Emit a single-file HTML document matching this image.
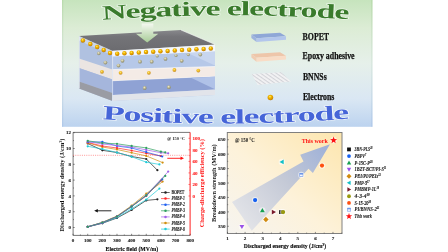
<!DOCTYPE html>
<html><head><meta charset="utf-8">
<style>
html,body{margin:0;padding:0;background:#fff;width:448px;height:252px;overflow:hidden}
svg{display:block}
text{font-family:"Liberation Serif",serif;font-weight:bold}
</style></head>
<body>
<svg width="448" height="252" viewBox="0 0 448 252">
<defs>
<linearGradient id="bgTop" x1="0" y1="0" x2="0" y2="1">
<stop offset="0" stop-color="#c6e4bd"/>
<stop offset="0.22" stop-color="#dcecd5"/>
<stop offset="0.5" stop-color="#e6f0ea"/>
<stop offset="0.78" stop-color="#dae7f3"/>
<stop offset="1" stop-color="#bcd3ef"/>
</linearGradient>
<radialGradient id="gold" cx="0.42" cy="0.35" r="0.7">
<stop offset="0" stop-color="#fff290"/>
<stop offset="0.3" stop-color="#f4bc00"/>
<stop offset="0.8" stop-color="#d08a00"/>
<stop offset="1" stop-color="#9a6400"/>
</radialGradient>
<radialGradient id="olive" cx="0.4" cy="0.35" r="0.65">
<stop offset="0" stop-color="#f0ecd0"/>
<stop offset="0.5" stop-color="#b8b490"/>
<stop offset="1" stop-color="#8a8a70"/>
</radialGradient>
<linearGradient id="downArrow" x1="0" y1="0" x2="0" y2="1">
<stop offset="0" stop-color="#f4f8f0"/>
<stop offset="1" stop-color="#a8cc98"/>
</linearGradient>
<linearGradient id="rbg" x1="0" y1="1" x2="1" y2="0">
<stop offset="0" stop-color="#f6f4f0"/>
<stop offset="0.45" stop-color="#fdf2da"/>
<stop offset="1" stop-color="#fde6ae"/>
</linearGradient>
<linearGradient id="bigArrow" gradientUnits="userSpaceOnUse" x1="238" y1="222" x2="326" y2="148">
<stop offset="0" stop-color="#e4e5e9"/>
<stop offset="0.55" stop-color="#c4c9d6"/>
<stop offset="1" stop-color="#a0b2d8"/>
</linearGradient>
<pattern id="hatch" patternUnits="userSpaceOnUse" width="3" height="3" patternTransform="rotate(35)">
<rect width="3" height="3" fill="#f3f3f4"/>
<rect width="3" height="1.1" fill="#d2d3d8"/>
</pattern>
<linearGradient id="topFace" gradientUnits="userSpaceOnUse" x1="0" y1="31" x2="0" y2="50">
<stop offset="0" stop-color="#858589"/>
<stop offset="0.3" stop-color="#747478"/>
<stop offset="1" stop-color="#6c6c70"/>
</linearGradient>
<linearGradient id="edgeR" x1="0" y1="0" x2="0" y2="1">
<stop offset="0" stop-color="#a8d098"/>
<stop offset="0.5" stop-color="#c8dcd0"/>
<stop offset="1" stop-color="#a0bce4"/>
</linearGradient>
</defs>

<!-- ============ TOP PANEL ============ -->
<rect x="62" y="0" width="310.5" height="126.8" fill="url(#bgTop)"/>
<rect x="371.2" y="0" width="1.2" height="126.8" fill="url(#edgeR)" opacity="0.5"/>
<rect x="62" y="0" width="1.3" height="126.8" fill="url(#edgeR)" opacity="0.45"/>

<!-- titles -->
<path id="arcN" d="M102.5,19.8 Q226,10.9 349.5,19.4" fill="none"/><text font-size="20.4" letter-spacing="-0.7" fill="#3a7b2c" style="paint-order:stroke" stroke="#ffffff" stroke-width="1.2" stroke-opacity="0.6"><textPath href="#arcN" textLength="245.5" lengthAdjust="spacingAndGlyphs">Negative electrode</textPath></text>
<path id="arcP" d="M102.5,119.2 Q226,128 349.5,118.6" fill="none"/><text font-size="20.4" letter-spacing="-0.7" fill="#4665d8" style="paint-order:stroke" stroke="#ffffff" stroke-width="1.2" stroke-opacity="0.7"><textPath href="#arcP" textLength="246" lengthAdjust="spacingAndGlyphs">Positive electrode</textPath></text>

<!-- slab -->
<g id="slab">
<!-- left face -->
<polygon points="79,36 112.5,51 112.5,101 79,88.5" fill="#b0c1e0"/>
<polygon points="79,58.5 112.5,69.5 112.5,79.5 79,68" fill="#ebe5e2"/>
<polygon points="79,68 112.5,79.5 112.5,93 79,81.4" fill="#a5b6dc"/>
<polygon points="79,81.4 112.5,93 112.5,101 79,88.5" fill="#9a9ca4"/>
<line x1="79.4" y1="36" x2="79.4" y2="88.5" stroke="#dfe6f0" stroke-width="0.8"/>
<!-- front face -->
<polygon points="112.5,51 215,45 215,95 112.5,101" fill="#b6c8e8"/>
<polygon points="186,52.3 215,50.6 215,65.6" fill="#c8d6ef"/>
<polygon points="112.5,69.5 215,66.4 215,76.5 112.5,81" fill="#f4ebe6"/>
<line x1="112.5" y1="69.6" x2="215" y2="66.5" stroke="#ffffff" stroke-width="0.7" opacity="0.8"/>
<line x1="112.5" y1="81" x2="215" y2="76.5" stroke="#ffffff" stroke-width="0.6" opacity="0.7"/>
<polygon points="112.5,81.3 215,76.8 215,89.5 112.5,95" fill="#8fa2d4"/>
<polygon points="191,77.8 215,76.8 215,89.3" fill="#b0c2e8"/>
<polygon points="112.5,95 215,89.5 215,95 112.5,101" fill="#e2e4ea"/>
<line x1="112.6" y1="51" x2="112.6" y2="101" stroke="#e8eef8" stroke-width="0.6"/>
<!-- top face -->
<polygon points="79,36 181,30 215,44.5 112.5,51" fill="url(#topFace)"/>
<polygon points="112.5,50.8 215,44.8 215,51.2 112.5,56.6" fill="#ffffff" opacity="0.85"/>
<polygon points="79,36 112.5,50.8 112.5,55.5 79,40.5" fill="#ffffff" opacity="0.35"/>
<line x1="181" y1="30" x2="215" y2="44.5" stroke="#ffffff" stroke-width="0.8" opacity="0.7"/>
</g>

<!-- down arrow -->
<polygon points="141.7,23.5 153.3,23.5 153.3,33.7 158.3,33.7 147.2,42.5 136,33.7 141.7,33.7" fill="url(#downArrow)"/>

<!-- electrons along edges -->
<g id="edots" fill="url(#gold)">
<circle cx="82.9" cy="40.5" r="2.25"/><circle cx="90.3" cy="44" r="2.25"/><circle cx="97.2" cy="47" r="2.25"/><circle cx="103.7" cy="49.9" r="2.25"/><circle cx="110" cy="53" r="2.25"/>
<circle cx="117.2" cy="53.7" r="2.25"/><circle cx="124.4" cy="53.3" r="2.25"/><circle cx="131.6" cy="52.9" r="2.25"/><circle cx="138.8" cy="52.5" r="2.25"/><circle cx="146" cy="52.1" r="2.25"/><circle cx="153.2" cy="51.7" r="2.25"/><circle cx="160.4" cy="51.3" r="2.25"/><circle cx="167.6" cy="50.9" r="2.25"/><circle cx="174.8" cy="50.5" r="2.25"/><circle cx="182" cy="50.1" r="2.25"/><circle cx="189.2" cy="49.7" r="2.25"/><circle cx="196.4" cy="49.3" r="2.25"/><circle cx="203.6" cy="48.9" r="2.25"/><circle cx="210.8" cy="48.5" r="2.25"/>
</g>
<!-- interior particles -->
<g id="idots" fill="url(#olive)">
<circle cx="105.4" cy="62.6" r="1.9"/><circle cx="98.8" cy="53.4" r="1.8"/><circle cx="118.5" cy="65.6" r="1.9"/><circle cx="122.5" cy="60.8" r="1.9"/><circle cx="140" cy="61.7" r="1.9"/><circle cx="151.7" cy="61.7" r="1.9"/><circle cx="165.5" cy="58.9" r="1.9"/><circle cx="181.7" cy="60.8" r="1.9"/><circle cx="200.3" cy="54.6" r="1.9"/><circle cx="157.2" cy="56" r="1.6"/><circle cx="176" cy="55.5" r="1.6"/><circle cx="188.3" cy="54.6" r="1.6"/>
<circle cx="144.7" cy="88" r="1.9"/><circle cx="168.9" cy="87.2" r="1.9"/>
</g>
<g id="gdots2" fill="url(#gold)" opacity="0.8">
<circle cx="102" cy="71.8" r="1.9"/><circle cx="120.6" cy="72.8" r="1.9"/><circle cx="148.9" cy="72.8" r="1.9"/><circle cx="174.4" cy="70" r="1.9"/><circle cx="198.3" cy="70.6" r="1.9"/>
</g>
<!-- legend icons -->
<polygon points="251.4,34.5 280,32.7 286,36.3 256.5,38.3" fill="#8fa7d7"/>
<polygon points="256.5,38.3 286,36.3 286,39.8 256.5,42" fill="#b3c6ec"/>
<polygon points="251.4,34.5 256.5,38.3 256.5,42 251.4,38" fill="#9db3de"/>
<polygon points="251.4,54 280,52.2 286,55.8 256.5,57.8" fill="#eec6aa"/>
<polygon points="256.5,57.8 286,55.8 286,59.5 256.5,61.7" fill="#f9dcc6"/>
<polygon points="251.4,54 256.5,57.8 256.5,61.7 251.4,57.6" fill="#f0ccb2"/>
<polygon points="251.8,73.9 281.3,72.3 291,81.4 257.7,85.1" fill="url(#hatch)"/>
<circle cx="270.4" cy="97.5" r="2.8" fill="url(#gold)"/>
<text x="302.6" y="40" font-size="9.6" fill="#111" textLength="26.5" stroke="#111" stroke-width="0.25" lengthAdjust="spacingAndGlyphs">BOPET</text>
<text x="302.6" y="59.3" font-size="9.6" fill="#111" textLength="52" stroke="#111" stroke-width="0.25" lengthAdjust="spacingAndGlyphs">Epoxy adhesive</text>
<text x="302.9" y="80.4" font-size="9.6" fill="#111" textLength="23.8" stroke="#111" stroke-width="0.25" lengthAdjust="spacingAndGlyphs">BNNSs</text>
<text x="302.9" y="99.8" font-size="9.6" fill="#111" textLength="31.5" stroke="#111" stroke-width="0.25" lengthAdjust="spacingAndGlyphs">Electrons</text>

<!-- ============ LEFT PLOT ============ -->
<g id="lplot">
<path d="M73.1,132.4 H190.1 M73.1,132.4 V235.4 H190.1" fill="none" stroke="#707070" stroke-width="0.95"/>
<line x1="190.1" y1="132.4" x2="190.1" y2="235.4" stroke="#ff2020" stroke-width="1.0"/>
<line x1="73.1" y1="227.50" x2="74.69999999999999" y2="227.50" stroke="#333" stroke-width="0.6"/>
<line x1="73.1" y1="219.60" x2="74.0" y2="219.60" stroke="#333" stroke-width="0.6"/>
<line x1="73.1" y1="211.70" x2="74.69999999999999" y2="211.70" stroke="#333" stroke-width="0.6"/>
<line x1="73.1" y1="203.80" x2="74.0" y2="203.80" stroke="#333" stroke-width="0.6"/>
<line x1="73.1" y1="195.90" x2="74.69999999999999" y2="195.90" stroke="#333" stroke-width="0.6"/>
<line x1="73.1" y1="188.00" x2="74.0" y2="188.00" stroke="#333" stroke-width="0.6"/>
<line x1="73.1" y1="180.10" x2="74.69999999999999" y2="180.10" stroke="#333" stroke-width="0.6"/>
<line x1="73.1" y1="172.20" x2="74.0" y2="172.20" stroke="#333" stroke-width="0.6"/>
<line x1="73.1" y1="164.30" x2="74.69999999999999" y2="164.30" stroke="#333" stroke-width="0.6"/>
<line x1="73.1" y1="156.40" x2="74.0" y2="156.40" stroke="#333" stroke-width="0.6"/>
<line x1="73.1" y1="148.50" x2="74.69999999999999" y2="148.50" stroke="#333" stroke-width="0.6"/>
<line x1="73.1" y1="140.60" x2="74.0" y2="140.60" stroke="#333" stroke-width="0.6"/>
<line x1="73.1" y1="132.70" x2="74.69999999999999" y2="132.70" stroke="#333" stroke-width="0.6"/>
<text x="70.89999999999999" y="229.20" font-size="5" text-anchor="end" fill="#222" stroke="#222" stroke-width="0.12">0</text>
<text x="70.89999999999999" y="213.40" font-size="5" text-anchor="end" fill="#222" stroke="#222" stroke-width="0.12">2</text>
<text x="70.89999999999999" y="197.60" font-size="5" text-anchor="end" fill="#222" stroke="#222" stroke-width="0.12">4</text>
<text x="70.89999999999999" y="181.80" font-size="5" text-anchor="end" fill="#222" stroke="#222" stroke-width="0.12">6</text>
<text x="70.89999999999999" y="166.00" font-size="5" text-anchor="end" fill="#222" stroke="#222" stroke-width="0.12">8</text>
<text x="70.89999999999999" y="150.20" font-size="5" text-anchor="end" fill="#222" stroke="#222" stroke-width="0.12">10</text>
<text x="70.89999999999999" y="134.40" font-size="5" text-anchor="end" fill="#222" stroke="#222" stroke-width="0.12">12</text>
<line x1="73.10" y1="235.4" x2="73.10" y2="233.8" stroke="#333" stroke-width="0.6"/>
<line x1="80.41" y1="235.4" x2="80.41" y2="234.5" stroke="#333" stroke-width="0.6"/>
<line x1="87.73" y1="235.4" x2="87.73" y2="233.8" stroke="#333" stroke-width="0.6"/>
<line x1="95.04" y1="235.4" x2="95.04" y2="234.5" stroke="#333" stroke-width="0.6"/>
<line x1="102.36" y1="235.4" x2="102.36" y2="233.8" stroke="#333" stroke-width="0.6"/>
<line x1="109.67" y1="235.4" x2="109.67" y2="234.5" stroke="#333" stroke-width="0.6"/>
<line x1="116.99" y1="235.4" x2="116.99" y2="233.8" stroke="#333" stroke-width="0.6"/>
<line x1="124.31" y1="235.4" x2="124.31" y2="234.5" stroke="#333" stroke-width="0.6"/>
<line x1="131.62" y1="235.4" x2="131.62" y2="233.8" stroke="#333" stroke-width="0.6"/>
<line x1="138.94" y1="235.4" x2="138.94" y2="234.5" stroke="#333" stroke-width="0.6"/>
<line x1="146.25" y1="235.4" x2="146.25" y2="233.8" stroke="#333" stroke-width="0.6"/>
<line x1="153.56" y1="235.4" x2="153.56" y2="234.5" stroke="#333" stroke-width="0.6"/>
<line x1="160.88" y1="235.4" x2="160.88" y2="233.8" stroke="#333" stroke-width="0.6"/>
<line x1="168.19" y1="235.4" x2="168.19" y2="234.5" stroke="#333" stroke-width="0.6"/>
<line x1="175.51" y1="235.4" x2="175.51" y2="233.8" stroke="#333" stroke-width="0.6"/>
<line x1="182.82" y1="235.4" x2="182.82" y2="234.5" stroke="#333" stroke-width="0.6"/>
<line x1="190.14" y1="235.4" x2="190.14" y2="233.8" stroke="#333" stroke-width="0.6"/>
<text x="73.10" y="241.9" font-size="5" text-anchor="middle" fill="#222" stroke="#222" stroke-width="0.12">0</text>
<text x="87.73" y="241.9" font-size="5" text-anchor="middle" fill="#222" stroke="#222" stroke-width="0.12">100</text>
<text x="102.36" y="241.9" font-size="5" text-anchor="middle" fill="#222" stroke="#222" stroke-width="0.12">200</text>
<text x="116.99" y="241.9" font-size="5" text-anchor="middle" fill="#222" stroke="#222" stroke-width="0.12">300</text>
<text x="131.62" y="241.9" font-size="5" text-anchor="middle" fill="#222" stroke="#222" stroke-width="0.12">400</text>
<text x="146.25" y="241.9" font-size="5" text-anchor="middle" fill="#222" stroke="#222" stroke-width="0.12">500</text>
<text x="160.88" y="241.9" font-size="5" text-anchor="middle" fill="#222" stroke="#222" stroke-width="0.12">600</text>
<text x="175.51" y="241.9" font-size="5" text-anchor="middle" fill="#222" stroke="#222" stroke-width="0.12">700</text>
<text x="190.14" y="241.9" font-size="5" text-anchor="middle" fill="#222" stroke="#222" stroke-width="0.12">800</text>
<line x1="190.1" y1="196.00" x2="188.5" y2="196.00" stroke="#ff2020" stroke-width="0.6"/>
<line x1="190.1" y1="190.23" x2="189.2" y2="190.23" stroke="#ff2020" stroke-width="0.6"/>
<line x1="190.1" y1="184.46" x2="188.5" y2="184.46" stroke="#ff2020" stroke-width="0.6"/>
<line x1="190.1" y1="178.69" x2="189.2" y2="178.69" stroke="#ff2020" stroke-width="0.6"/>
<line x1="190.1" y1="172.92" x2="188.5" y2="172.92" stroke="#ff2020" stroke-width="0.6"/>
<line x1="190.1" y1="167.15" x2="189.2" y2="167.15" stroke="#ff2020" stroke-width="0.6"/>
<line x1="190.1" y1="161.38" x2="188.5" y2="161.38" stroke="#ff2020" stroke-width="0.6"/>
<line x1="190.1" y1="155.61" x2="189.2" y2="155.61" stroke="#ff2020" stroke-width="0.6"/>
<line x1="190.1" y1="149.84" x2="188.5" y2="149.84" stroke="#ff2020" stroke-width="0.6"/>
<line x1="190.1" y1="144.07" x2="189.2" y2="144.07" stroke="#ff2020" stroke-width="0.6"/>
<line x1="190.1" y1="138.30" x2="188.5" y2="138.30" stroke="#ff2020" stroke-width="0.6"/>
<text x="192.4" y="197.70" font-size="5" fill="#ff2020" stroke="#ff2020" stroke-width="0.1">0</text>
<text x="192.4" y="186.16" font-size="5" fill="#ff2020" stroke="#ff2020" stroke-width="0.1">20</text>
<text x="192.4" y="174.62" font-size="5" fill="#ff2020" stroke="#ff2020" stroke-width="0.1">40</text>
<text x="192.4" y="163.08" font-size="5" fill="#ff2020" stroke="#ff2020" stroke-width="0.1">60</text>
<text x="192.4" y="151.54" font-size="5" fill="#ff2020" stroke="#ff2020" stroke-width="0.1">80</text>
<text x="192.4" y="140.00" font-size="5" fill="#ff2020" stroke="#ff2020" stroke-width="0.1">100</text>
<line x1="73.1" y1="155.3" x2="190.1" y2="155.3" stroke="#ff5050" stroke-width="0.6" stroke-dasharray="1,1.2"/>
<line x1="167.3" y1="158.3" x2="181" y2="158.3" stroke="#ff1010" stroke-width="0.9"/>
<polygon points="184,158.3 180.5,156.6 180.5,160" fill="#ff1010"/>
<line x1="97" y1="210.8" x2="111.4" y2="210.8" stroke="#111" stroke-width="0.9"/>
<polygon points="94.2,210.8 97.8,209.1 97.8,212.5" fill="#111"/>
<text x="167.3" y="140.3" font-size="5" fill="#222" textLength="17.5" lengthAdjust="spacingAndGlyphs">@ 150 °C</text>
<polyline points="87.73,143.50 102.36,150.30 116.99,152.50 131.62,156.50 146.25,159.00 157.37,170.20" fill="none" stroke="#222222" stroke-width="0.7"/>
<circle cx="87.73" cy="143.50" r="1.1" fill="#222222"/>
<circle cx="102.36" cy="150.30" r="1.1" fill="#222222"/>
<circle cx="116.99" cy="152.50" r="1.1" fill="#222222"/>
<circle cx="131.62" cy="156.50" r="1.1" fill="#222222"/>
<circle cx="146.25" cy="159.00" r="1.1" fill="#222222"/>
<circle cx="157.37" cy="170.20" r="1.1" fill="#222222"/>
<polyline points="87.73,146.30 102.36,149.00 116.99,152.50 131.62,156.70 146.25,162.20 159.42,164.40" fill="none" stroke="#20ccd8" stroke-width="0.7"/>
<circle cx="87.73" cy="146.30" r="1.1" fill="#20ccd8"/>
<circle cx="102.36" cy="149.00" r="1.1" fill="#20ccd8"/>
<circle cx="116.99" cy="152.50" r="1.1" fill="#20ccd8"/>
<circle cx="131.62" cy="156.70" r="1.1" fill="#20ccd8"/>
<circle cx="146.25" cy="162.20" r="1.1" fill="#20ccd8"/>
<circle cx="159.42" cy="164.40" r="1.1" fill="#20ccd8"/>
<polyline points="87.73,142.80 102.36,147.00 116.99,149.50 131.62,152.70 146.25,155.90 162.64,162.60" fill="none" stroke="#d09010" stroke-width="0.7"/>
<circle cx="87.73" cy="142.80" r="1.1" fill="#d09010"/>
<circle cx="102.36" cy="147.00" r="1.1" fill="#d09010"/>
<circle cx="116.99" cy="149.50" r="1.1" fill="#d09010"/>
<circle cx="131.62" cy="152.70" r="1.1" fill="#d09010"/>
<circle cx="146.25" cy="155.90" r="1.1" fill="#d09010"/>
<circle cx="162.64" cy="162.60" r="1.1" fill="#d09010"/>
<polyline points="87.73,142.50 102.36,146.00 116.99,148.00 131.62,150.50 146.25,153.30 160.88,156.00" fill="none" stroke="#ff2a2a" stroke-width="0.7"/>
<circle cx="87.73" cy="142.50" r="1.1" fill="#ff2a2a"/>
<circle cx="102.36" cy="146.00" r="1.1" fill="#ff2a2a"/>
<circle cx="116.99" cy="148.00" r="1.1" fill="#ff2a2a"/>
<circle cx="131.62" cy="150.50" r="1.1" fill="#ff2a2a"/>
<circle cx="146.25" cy="153.30" r="1.1" fill="#ff2a2a"/>
<circle cx="160.88" cy="156.00" r="1.1" fill="#ff2a2a"/>
<polyline points="87.73,142.00 102.36,141.90 116.99,146.00 131.62,148.00 146.25,152.10 162.20,156.50" fill="none" stroke="#2060f0" stroke-width="0.7"/>
<circle cx="87.73" cy="142.00" r="1.1" fill="#2060f0"/>
<circle cx="102.36" cy="141.90" r="1.1" fill="#2060f0"/>
<circle cx="116.99" cy="146.00" r="1.1" fill="#2060f0"/>
<circle cx="131.62" cy="148.00" r="1.1" fill="#2060f0"/>
<circle cx="146.25" cy="152.10" r="1.1" fill="#2060f0"/>
<circle cx="162.20" cy="156.50" r="1.1" fill="#2060f0"/>
<polyline points="87.73,141.50 102.36,144.00 116.99,145.50 131.62,147.00 146.25,149.90 160.88,152.70 168.19,153.30" fill="none" stroke="#a060e8" stroke-width="0.7"/>
<circle cx="87.73" cy="141.50" r="1.1" fill="#a060e8"/>
<circle cx="102.36" cy="144.00" r="1.1" fill="#a060e8"/>
<circle cx="116.99" cy="145.50" r="1.1" fill="#a060e8"/>
<circle cx="131.62" cy="147.00" r="1.1" fill="#a060e8"/>
<circle cx="146.25" cy="149.90" r="1.1" fill="#a060e8"/>
<circle cx="160.88" cy="152.70" r="1.1" fill="#a060e8"/>
<circle cx="168.19" cy="153.30" r="1.1" fill="#a060e8"/>
<polyline points="87.73,140.80 102.36,143.00 116.99,143.80 131.62,145.90 146.25,147.90 160.88,151.60 165.27,152.40" fill="none" stroke="#30a060" stroke-width="0.7"/>
<circle cx="87.73" cy="140.80" r="1.1" fill="#30a060"/>
<circle cx="102.36" cy="143.00" r="1.1" fill="#30a060"/>
<circle cx="116.99" cy="143.80" r="1.1" fill="#30a060"/>
<circle cx="131.62" cy="145.90" r="1.1" fill="#30a060"/>
<circle cx="146.25" cy="147.90" r="1.1" fill="#30a060"/>
<circle cx="160.88" cy="151.60" r="1.1" fill="#30a060"/>
<circle cx="165.27" cy="152.40" r="1.1" fill="#30a060"/>
<polyline points="87.73,226.80 102.36,223.30 116.99,218.00 131.62,210.00 146.25,200.40 157.37,199.30" fill="none" stroke="#222222" stroke-width="0.7"/>
<circle cx="87.73" cy="226.80" r="1.1" fill="#222222"/>
<circle cx="102.36" cy="223.30" r="1.1" fill="#222222"/>
<circle cx="116.99" cy="218.00" r="1.1" fill="#222222"/>
<circle cx="131.62" cy="210.00" r="1.1" fill="#222222"/>
<circle cx="146.25" cy="200.40" r="1.1" fill="#222222"/>
<circle cx="157.37" cy="199.30" r="1.1" fill="#222222"/>
<polyline points="87.73,226.80 102.36,223.00 116.99,217.50 131.62,208.80 146.25,199.60 159.42,188.60" fill="none" stroke="#20ccd8" stroke-width="0.7"/>
<circle cx="87.73" cy="226.80" r="1.1" fill="#20ccd8"/>
<circle cx="102.36" cy="223.00" r="1.1" fill="#20ccd8"/>
<circle cx="116.99" cy="217.50" r="1.1" fill="#20ccd8"/>
<circle cx="131.62" cy="208.80" r="1.1" fill="#20ccd8"/>
<circle cx="146.25" cy="199.60" r="1.1" fill="#20ccd8"/>
<circle cx="159.42" cy="188.60" r="1.1" fill="#20ccd8"/>
<polyline points="87.73,226.80 102.36,222.30 116.99,216.00 131.62,205.60 146.25,193.70 162.64,181.60" fill="none" stroke="#d09010" stroke-width="0.7"/>
<circle cx="87.73" cy="226.80" r="1.1" fill="#d09010"/>
<circle cx="102.36" cy="222.30" r="1.1" fill="#d09010"/>
<circle cx="116.99" cy="216.00" r="1.1" fill="#d09010"/>
<circle cx="131.62" cy="205.60" r="1.1" fill="#d09010"/>
<circle cx="146.25" cy="193.70" r="1.1" fill="#d09010"/>
<circle cx="162.64" cy="181.60" r="1.1" fill="#d09010"/>
<polyline points="87.73,226.80 102.36,222.80 116.99,216.50 131.62,206.50 146.25,196.00 160.88,180.60" fill="none" stroke="#ff2a2a" stroke-width="0.7"/>
<circle cx="87.73" cy="226.80" r="1.1" fill="#ff2a2a"/>
<circle cx="102.36" cy="222.80" r="1.1" fill="#ff2a2a"/>
<circle cx="116.99" cy="216.50" r="1.1" fill="#ff2a2a"/>
<circle cx="131.62" cy="206.50" r="1.1" fill="#ff2a2a"/>
<circle cx="146.25" cy="196.00" r="1.1" fill="#ff2a2a"/>
<circle cx="160.88" cy="180.60" r="1.1" fill="#ff2a2a"/>
<polyline points="87.73,226.80 102.36,222.80 116.99,216.50 131.62,206.50 146.25,195.50 162.20,179.40" fill="none" stroke="#2060f0" stroke-width="0.7"/>
<circle cx="87.73" cy="226.80" r="1.1" fill="#2060f0"/>
<circle cx="102.36" cy="222.80" r="1.1" fill="#2060f0"/>
<circle cx="116.99" cy="216.50" r="1.1" fill="#2060f0"/>
<circle cx="131.62" cy="206.50" r="1.1" fill="#2060f0"/>
<circle cx="146.25" cy="195.50" r="1.1" fill="#2060f0"/>
<circle cx="162.20" cy="179.40" r="1.1" fill="#2060f0"/>
<polyline points="87.73,226.80 102.36,222.50 116.99,216.50 131.62,206.50 146.25,195.00 168.19,171.60" fill="none" stroke="#a060e8" stroke-width="0.7"/>
<circle cx="87.73" cy="226.80" r="1.1" fill="#a060e8"/>
<circle cx="102.36" cy="222.50" r="1.1" fill="#a060e8"/>
<circle cx="116.99" cy="216.50" r="1.1" fill="#a060e8"/>
<circle cx="131.62" cy="206.50" r="1.1" fill="#a060e8"/>
<circle cx="146.25" cy="195.00" r="1.1" fill="#a060e8"/>
<circle cx="168.19" cy="171.60" r="1.1" fill="#a060e8"/>
<polyline points="87.73,226.80 102.36,222.50 116.99,216.50 131.62,206.50 146.25,195.30 165.27,175.90" fill="none" stroke="#30a060" stroke-width="0.7"/>
<circle cx="87.73" cy="226.80" r="1.1" fill="#30a060"/>
<circle cx="102.36" cy="222.50" r="1.1" fill="#30a060"/>
<circle cx="116.99" cy="216.50" r="1.1" fill="#30a060"/>
<circle cx="131.62" cy="206.50" r="1.1" fill="#30a060"/>
<circle cx="146.25" cy="195.30" r="1.1" fill="#30a060"/>
<circle cx="165.27" cy="175.90" r="1.1" fill="#30a060"/>
<line x1="161" y1="192.50" x2="169.7" y2="192.50" stroke="#222222" stroke-width="0.7"/>
<circle cx="165.5" cy="192.50" r="1.25" fill="#222222"/>
<text x="171.4" y="194.00" font-size="5.4" fill="#222" stroke="#222" stroke-width="0.12" textLength="12.8" lengthAdjust="spacingAndGlyphs">BOPET</text>
<line x1="161" y1="198.60" x2="169.7" y2="198.60" stroke="#ff2a2a" stroke-width="0.7"/>
<circle cx="165.5" cy="198.60" r="1.25" fill="#ff2a2a"/>
<text x="171.4" y="200.10" font-size="5.4" font-style="italic" fill="#222" stroke="#222" stroke-width="0.12" textLength="13.4" lengthAdjust="spacingAndGlyphs">PMBP-1</text>
<line x1="161" y1="204.70" x2="169.7" y2="204.70" stroke="#2060f0" stroke-width="0.7"/>
<circle cx="165.5" cy="204.70" r="1.25" fill="#2060f0"/>
<text x="171.4" y="206.20" font-size="5.4" font-style="italic" fill="#222" stroke="#222" stroke-width="0.12" textLength="13.4" lengthAdjust="spacingAndGlyphs">PMBP-2</text>
<line x1="161" y1="210.80" x2="169.7" y2="210.80" stroke="#30a060" stroke-width="0.7"/>
<circle cx="165.5" cy="210.80" r="1.25" fill="#30a060"/>
<text x="171.4" y="212.30" font-size="5.4" font-style="italic" fill="#222" stroke="#222" stroke-width="0.12" textLength="13.4" lengthAdjust="spacingAndGlyphs">PMBP-3</text>
<line x1="161" y1="216.90" x2="169.7" y2="216.90" stroke="#a060e8" stroke-width="0.7"/>
<circle cx="165.5" cy="216.90" r="1.25" fill="#a060e8"/>
<text x="171.4" y="218.40" font-size="5.4" font-style="italic" fill="#222" stroke="#222" stroke-width="0.12" textLength="13.4" lengthAdjust="spacingAndGlyphs">PMBP-4</text>
<line x1="161" y1="223.00" x2="169.7" y2="223.00" stroke="#d09010" stroke-width="0.7"/>
<circle cx="165.5" cy="223.00" r="1.25" fill="#d09010"/>
<text x="171.4" y="224.50" font-size="5.4" font-style="italic" fill="#222" stroke="#222" stroke-width="0.12" textLength="13.4" lengthAdjust="spacingAndGlyphs">PMBP-5</text>
<line x1="161" y1="229.10" x2="169.7" y2="229.10" stroke="#20ccd8" stroke-width="0.7"/>
<circle cx="165.5" cy="229.10" r="1.25" fill="#20ccd8"/>
<text x="171.4" y="230.60" font-size="5.4" font-style="italic" fill="#222" stroke="#222" stroke-width="0.12" textLength="13.4" lengthAdjust="spacingAndGlyphs">PMBP-6</text>
<text transform="translate(64,185) rotate(-90)" font-size="6" text-anchor="middle" fill="#111" textLength="93" lengthAdjust="spacingAndGlyphs">Discharged energy density (J/cm<tspan dy="-2" font-size="4">3</tspan><tspan dy="2">)</tspan></text>
<text transform="translate(204.3,183.2) rotate(-90)" font-size="6" text-anchor="middle" fill="#ff2020" textLength="88.2" lengthAdjust="spacingAndGlyphs">Charge-discharge efficiency (%)</text>
<text x="131.9" y="250.8" font-size="6.6" text-anchor="middle" fill="#111" stroke="#111" stroke-width="0.15" textLength="52.7" lengthAdjust="spacingAndGlyphs">Electric field (MV/m)</text>
</g>

<!-- ============ RIGHT PLOT ============ -->
<g id="rplot">
<rect x="227.3" y="132.5" width="114.69999999999999" height="101.0" fill="url(#rbg)"/>
<polygon points="232,201.9 303.5,161.5 300.2,154.8 330,144.3 312.9,173 308.5,168.7 251.8,230.7" fill="url(#bigArrow)"/>
<rect x="227.3" y="132.5" width="114.69999999999999" height="101.0" fill="none" stroke="#7a7a7a" stroke-width="0.95"/>
<line x1="227.3" y1="226.31" x2="228.9" y2="226.31" stroke="#444" stroke-width="0.6"/>
<line x1="227.3" y1="219.09" x2="228.20000000000002" y2="219.09" stroke="#444" stroke-width="0.6"/>
<line x1="227.3" y1="211.88" x2="228.9" y2="211.88" stroke="#444" stroke-width="0.6"/>
<line x1="227.3" y1="204.66" x2="228.20000000000002" y2="204.66" stroke="#444" stroke-width="0.6"/>
<line x1="227.3" y1="197.44" x2="228.9" y2="197.44" stroke="#444" stroke-width="0.6"/>
<line x1="227.3" y1="190.22" x2="228.20000000000002" y2="190.22" stroke="#444" stroke-width="0.6"/>
<line x1="227.3" y1="183.00" x2="228.9" y2="183.00" stroke="#444" stroke-width="0.6"/>
<line x1="227.3" y1="175.79" x2="228.20000000000002" y2="175.79" stroke="#444" stroke-width="0.6"/>
<line x1="227.3" y1="168.57" x2="228.9" y2="168.57" stroke="#444" stroke-width="0.6"/>
<line x1="227.3" y1="161.35" x2="228.20000000000002" y2="161.35" stroke="#444" stroke-width="0.6"/>
<line x1="227.3" y1="154.13" x2="228.9" y2="154.13" stroke="#444" stroke-width="0.6"/>
<line x1="227.3" y1="146.92" x2="228.20000000000002" y2="146.92" stroke="#444" stroke-width="0.6"/>
<line x1="227.3" y1="139.70" x2="228.9" y2="139.70" stroke="#444" stroke-width="0.6"/>
<text x="225.5" y="228.01" font-size="5" text-anchor="end" fill="#222" stroke="#222" stroke-width="0.12">350</text>
<text x="225.5" y="213.57" font-size="5" text-anchor="end" fill="#222" stroke="#222" stroke-width="0.12">400</text>
<text x="225.5" y="199.14" font-size="5" text-anchor="end" fill="#222" stroke="#222" stroke-width="0.12">450</text>
<text x="225.5" y="184.70" font-size="5" text-anchor="end" fill="#222" stroke="#222" stroke-width="0.12">500</text>
<text x="225.5" y="170.27" font-size="5" text-anchor="end" fill="#222" stroke="#222" stroke-width="0.12">550</text>
<text x="225.5" y="155.83" font-size="5" text-anchor="end" fill="#222" stroke="#222" stroke-width="0.12">600</text>
<text x="225.5" y="141.40" font-size="5" text-anchor="end" fill="#222" stroke="#222" stroke-width="0.12">650</text>
<line x1="227.50" y1="233.5" x2="227.50" y2="231.9" stroke="#444" stroke-width="0.6"/>
<line x1="236.29" y1="233.5" x2="236.29" y2="232.6" stroke="#444" stroke-width="0.6"/>
<line x1="245.08" y1="233.5" x2="245.08" y2="231.9" stroke="#444" stroke-width="0.6"/>
<line x1="253.87" y1="233.5" x2="253.87" y2="232.6" stroke="#444" stroke-width="0.6"/>
<line x1="262.66" y1="233.5" x2="262.66" y2="231.9" stroke="#444" stroke-width="0.6"/>
<line x1="271.45" y1="233.5" x2="271.45" y2="232.6" stroke="#444" stroke-width="0.6"/>
<line x1="280.24" y1="233.5" x2="280.24" y2="231.9" stroke="#444" stroke-width="0.6"/>
<line x1="289.03" y1="233.5" x2="289.03" y2="232.6" stroke="#444" stroke-width="0.6"/>
<line x1="297.82" y1="233.5" x2="297.82" y2="231.9" stroke="#444" stroke-width="0.6"/>
<line x1="306.61" y1="233.5" x2="306.61" y2="232.6" stroke="#444" stroke-width="0.6"/>
<line x1="315.40" y1="233.5" x2="315.40" y2="231.9" stroke="#444" stroke-width="0.6"/>
<line x1="324.19" y1="233.5" x2="324.19" y2="232.6" stroke="#444" stroke-width="0.6"/>
<line x1="332.98" y1="233.5" x2="332.98" y2="231.9" stroke="#444" stroke-width="0.6"/>
<line x1="341.77" y1="233.5" x2="341.77" y2="232.6" stroke="#444" stroke-width="0.6"/>
<text x="227.50" y="239.8" font-size="5" text-anchor="middle" fill="#222" stroke="#222" stroke-width="0.12">1</text>
<text x="245.08" y="239.8" font-size="5" text-anchor="middle" fill="#222" stroke="#222" stroke-width="0.12">2</text>
<text x="262.66" y="239.8" font-size="5" text-anchor="middle" fill="#222" stroke="#222" stroke-width="0.12">3</text>
<text x="280.24" y="239.8" font-size="5" text-anchor="middle" fill="#222" stroke="#222" stroke-width="0.12">4</text>
<text x="297.82" y="239.8" font-size="5" text-anchor="middle" fill="#222" stroke="#222" stroke-width="0.12">5</text>
<text x="315.40" y="239.8" font-size="5" text-anchor="middle" fill="#222" stroke="#222" stroke-width="0.12">6</text>
<text x="332.98" y="239.8" font-size="5" text-anchor="middle" fill="#222" stroke="#222" stroke-width="0.12">7</text>
<text x="235" y="142.4" font-size="5.8" fill="#111" textLength="19.8" lengthAdjust="spacingAndGlyphs">@ 150 °C</text>
<text x="301.7" y="142.5" font-size="6.8" fill="#ff1010" textLength="26.1" lengthAdjust="spacingAndGlyphs">This work</text>
<text x="285" y="248.2" font-size="6.2" text-anchor="middle" fill="#111" stroke="#111" stroke-width="0.15" textLength="82.3" lengthAdjust="spacingAndGlyphs">Discharged energy density (J/cm³)</text>
<text transform="translate(215.8,183.1) rotate(-90)" font-size="6" text-anchor="middle" fill="#111" textLength="77.6" lengthAdjust="spacingAndGlyphs">Breakdown strength (MV/m)</text>
<circle cx="281" cy="212.1" r="3.2" fill="#ffffff" opacity="0.55"/>
<rect x="279.10" y="210.20" width="3.80" height="3.80" fill="#111111"/>
<circle cx="255.1" cy="200.1" r="3.2" fill="#ffffff" opacity="0.55"/>
<circle cx="255.10" cy="200.10" r="2.10" fill="#1560f0"/>
<circle cx="262.4" cy="210.4" r="3.2" fill="#ffffff" opacity="0.55"/>
<polygon points="262.40,207.99 264.81,212.19 259.98,212.19" fill="#15a050"/>
<circle cx="241.9" cy="226.7" r="3.2" fill="#ffffff" opacity="0.55"/>
<polygon points="241.90,229.11 244.31,224.91 239.49,224.91" fill="#9a50e8"/>
<circle cx="265.9" cy="219.6" r="3.2" fill="#ffffff" opacity="0.55"/>
<polygon points="265.90,216.87 268.63,219.60 265.90,222.33 263.17,219.60" fill="#d08a10"/>
<circle cx="281.9" cy="161.9" r="3.2" fill="#ffffff" opacity="0.55"/>
<polygon points="279.48,161.90 283.69,159.49 283.69,164.31" fill="#10c0c8"/>
<circle cx="273.6" cy="212.1" r="3.2" fill="#ffffff" opacity="0.55"/>
<polygon points="276.02,212.10 271.81,209.69 271.81,214.51" fill="#7a1a2a"/>
<circle cx="283.1" cy="212.1" r="3.2" fill="#ffffff" opacity="0.55"/>
<circle cx="283.10" cy="212.10" r="2.10" fill="#9a9a10"/>
<circle cx="322" cy="165.6" r="3.2" fill="#ffffff" opacity="0.55"/>
<circle cx="322.00" cy="165.60" r="2.10" fill="#ff5010"/>
<circle cx="301.3" cy="174.9" r="3.2" fill="#ffffff" opacity="0.55"/>
<rect x="299.40" y="173.00" width="3.80" height="3.80" rx="0.5" fill="#6e96e6"/><rect x="299.90" y="174.60" width="2.80" height="1.60" fill="#f2f6ff"/>
<circle cx="333.6" cy="140.3" r="3.2" fill="#ffffff" opacity="0.55"/>
<polygon points="333.60,136.62 334.51,139.05 337.10,139.16 335.07,140.78 335.76,143.27 333.60,141.84 331.44,143.27 332.13,140.78 330.10,139.16 332.69,139.05" fill="#ff1010"/>
<rect x="347.10" y="147.50" width="3.80" height="3.80" fill="#111111"/>
<text x="354.6" y="151.20" font-size="5.4" font-style="italic" fill="#1a1a1a" stroke="#1a1a1a" stroke-width="0.12" textLength="17.9" lengthAdjust="spacingAndGlyphs">3BN-PLS<tspan font-size="3.2" dy="-2">28</tspan></text>
<circle cx="349.00" cy="156.09" r="1.90" fill="#1560f0"/>
<text x="354.6" y="157.89" font-size="5.4" font-style="italic" fill="#1a1a1a" stroke="#1a1a1a" stroke-width="0.12" textLength="11.6" lengthAdjust="spacingAndGlyphs">PBPV<tspan font-size="3.2" dy="-2">7</tspan></text>
<polygon points="349.00,160.59 351.19,164.40 346.81,164.40" fill="#15a050"/>
<text x="354.6" y="164.58" font-size="5.4" font-style="italic" fill="#1a1a1a" stroke="#1a1a1a" stroke-width="0.12" textLength="17.9" lengthAdjust="spacingAndGlyphs">P-15C-P<tspan font-size="3.2" dy="-2">28</tspan></text>
<polygon points="349.00,171.66 351.19,167.85 346.81,167.85" fill="#9a50e8"/>
<text x="354.6" y="171.27" font-size="5.4" font-style="italic" fill="#1a1a1a" stroke="#1a1a1a" stroke-width="0.12" textLength="31.799999999999997" lengthAdjust="spacingAndGlyphs">1BZT-BCT/PI-S<tspan font-size="3.2" dy="-2">11</tspan></text>
<polygon points="349.00,173.69 351.47,176.16 349.00,178.63 346.53,176.16" fill="#d08a10"/>
<text x="354.6" y="177.96" font-size="5.4" font-style="italic" fill="#1a1a1a" stroke="#1a1a1a" stroke-width="0.12" textLength="26.3" lengthAdjust="spacingAndGlyphs">PEI/PI/PEIs<tspan font-size="3.2" dy="-2">12</tspan></text>
<polygon points="346.81,182.85 350.62,180.67 350.62,185.04" fill="#10c0c8"/>
<text x="354.6" y="184.65" font-size="5.4" font-style="italic" fill="#1a1a1a" stroke="#1a1a1a" stroke-width="0.12" textLength="15.0" lengthAdjust="spacingAndGlyphs">PMP-5<tspan font-size="3.2" dy="-2">17</tspan></text>
<polygon points="351.19,189.54 347.38,187.36 347.38,191.73" fill="#7a1a2a"/>
<text x="354.6" y="191.34" font-size="5.4" font-style="italic" fill="#1a1a1a" stroke="#1a1a1a" stroke-width="0.12" textLength="24.4" lengthAdjust="spacingAndGlyphs">PMBMP-1L<tspan font-size="3.2" dy="-2">18</tspan></text>
<circle cx="349.00" cy="196.23" r="1.90" fill="#9a9a10"/>
<text x="354.6" y="198.03" font-size="5.4" font-style="italic" fill="#1a1a1a" stroke="#1a1a1a" stroke-width="0.12" textLength="15.1" lengthAdjust="spacingAndGlyphs">4-3-4<tspan font-size="3.2" dy="-2">19</tspan></text>
<circle cx="349.00" cy="202.92" r="1.90" fill="#ff5010"/>
<text x="354.6" y="204.72" font-size="5.4" font-style="italic" fill="#1a1a1a" stroke="#1a1a1a" stroke-width="0.12" textLength="16.5" lengthAdjust="spacingAndGlyphs">S-15-20<tspan font-size="3.2" dy="-2">20</tspan></text>
<rect x="347.10" y="207.71" width="3.80" height="3.80" rx="0.5" fill="#6e96e6"/><rect x="347.60" y="209.31" width="2.80" height="1.60" fill="#f2f6ff"/>
<text x="354.6" y="211.41" font-size="5.4" font-style="italic" fill="#1a1a1a" stroke="#1a1a1a" stroke-width="0.12" textLength="24.9" lengthAdjust="spacingAndGlyphs">PI/BNNS-2<tspan font-size="3.2" dy="-2">21</tspan></text>
<polygon points="349.00,212.98 349.82,215.17 352.16,215.27 350.33,216.73 350.95,218.99 349.00,217.70 347.05,218.99 347.67,216.73 345.84,215.27 348.18,215.17" fill="#ff1010"/>
<text x="354.6" y="218.10" font-size="5.4" font-style="italic" fill="#1a1a1a" stroke="#1a1a1a" stroke-width="0.12" textLength="17.2" lengthAdjust="spacingAndGlyphs">This work</text>
</g>
</svg>
</body></html>
